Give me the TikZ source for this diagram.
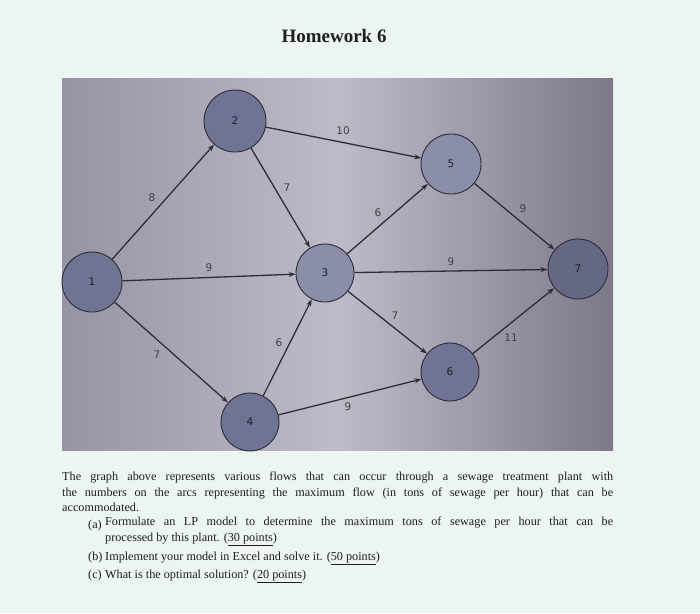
\documentclass[tikz,border=0pt]{standalone}
\usepackage{fontspec}
\setmainfont{Liberation Serif}
\newfontfamily\labfont{DejaVu Sans}
\usetikzlibrary{arrows.meta}
\definecolor{pagebg}{RGB}{236,245,242}
\definecolor{panelmid}{RGB}{190,187,201}
\definecolor{paneledge}{RGB}{150,147,163}
\definecolor{panelright}{RGB}{125,120,135}
\definecolor{nodefill}{RGB}{112,116,148}
\definecolor{nodelight}{RGB}{138,142,168}
\definecolor{edgecol}{RGB}{45,45,55}
\definecolor{txtcol}{RGB}{30,30,35}
\tikzset{
  vtx/.style={circle, draw=edgecol, line width=0.9pt, fill=nodefill, minimum size=60pt, inner sep=0pt, font=\labfont\fontsize{10.5}{10.5}\selectfont, text=txtcol},
  flow/.style={draw=edgecol, line width=1.3pt, -{Stealth[length=7pt,width=5pt]}},
  flowlabel/.style={font=\labfont\fontsize{10.5}{10.5}\selectfont, text=txtcol!85, inner sep=0pt},
  body/.style={inner sep=0pt, text=txtcol, font=\fontsize{12.2}{15.3}\selectfont}
}
\begin{document}
\begin{tikzpicture}[x=1pt,y=-1pt]
\useasboundingbox (0,0) rectangle (700,613);
\fill[pagebg] (0,0) rectangle (700,613);
% panel
\shade[left color=paneledge, right color=panelright, middle color=panelmid] (62,78) rectangle (613,450);
% title
\node[font=\bfseries\fontsize{19}{19}\selectfont, text=txtcol] (title) at (334,36) {Homework 6};
% nodes
\node[vtx] (n1) at (92,282) {1};
\node[vtx, minimum size=62pt] (n2) at (235,121) {2};
\node[vtx, fill=nodelight, minimum size=58pt] (n3) at (325,273) {3};
\node[vtx, minimum size=58pt] (n4) at (250,422) {4};
\node[vtx, fill=nodelight] (n5) at (451,164) {5};
\node[vtx, minimum size=58pt] (n6) at (450,372) {6};
\node[vtx, minimum size=60pt, fill=nodefill!90!black] (n7) at (578,269) {7};
% edges
\draw[flow] (n1) -- (n2);
\draw[flow] (n1) -- (n3);
\draw[flow] (n1) -- (n4);
\draw[flow] (n2) -- (n5);
\draw[flow] (n2) -- (n3);
\draw[flow] (n4) -- (n3);
\draw[flow] (n4) -- (n6);
\draw[flow] (n3) -- (n5);
\draw[flow] (n3) -- (n7);
\draw[flow] (n3) -- (n6);
\draw[flow] (n5) -- (n7);
\draw[flow] (n6) -- (n7);
% labels
\node[flowlabel] (l12) at (152,198) {8};
\node[flowlabel] (l25) at (343,131) {10};
\node[flowlabel] (l23) at (287,188) {7};
\node[flowlabel] (l13) at (209,268) {9};
\node[flowlabel] (l14) at (157,355) {7};
\node[flowlabel] (l43) at (279,343) {6};
\node[flowlabel] (l46) at (348,407) {9};
\node[flowlabel] (l35) at (378,213) {6};
\node[flowlabel] (l37) at (451,262) {9};
\node[flowlabel] (l36) at (395,316) {7};
\node[flowlabel] (l57) at (523,209) {9};
\node[flowlabel] (l67) at (511,338) {11};
% text
\node[body, anchor=north west, text width=551pt, align=justify] (para) at (62,472) {%
The graph above represents various flows that can occur through a sewage treatment plant with\linebreak
the numbers on the arcs representing the maximum flow (in tons of sewage per hour) that can be\linebreak
accommodated.};
\node[body, anchor=base west] (ia) at (88,528) {(a)};
\node[body, anchor=north west, text width=508pt, align=justify] (ta) at (105,517) {%
Formulate an LP model to determine the maximum tons of sewage per hour that can be\linebreak
processed by this plant. (\underline{30 points})};
\node[body, anchor=base west] (ib) at (88,560) {(b)};
\node[body, anchor=base west] (tb) at (105,560) {Implement your model in Excel and solve it. (\underline{50 points})};
\node[body, anchor=base west] (ic) at (88,578) {(c)};
\node[body, anchor=base west] (tc) at (105,578) {What is the optimal solution? (\underline{20 points})};
\end{tikzpicture}
\end{document}
